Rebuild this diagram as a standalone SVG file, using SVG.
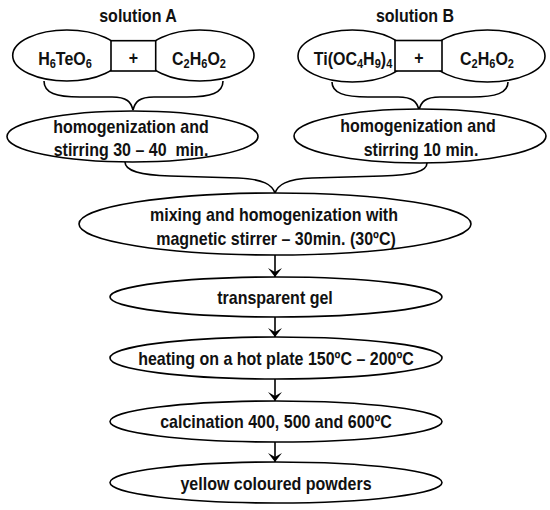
<svg xmlns="http://www.w3.org/2000/svg" width="550" height="510" viewBox="0 0 550 510">
<style>
.n{fill:#fff;stroke:#000;stroke-width:1.6}
.c{fill:none;stroke:#000;stroke-width:1.6}
text{font-family:"Liberation Sans",Arial,sans-serif;font-weight:bold;font-size:16px;fill:#111;text-anchor:middle}
.s{font-size:11px}
</style>
<defs>
<marker id="ah" markerUnits="userSpaceOnUse" markerWidth="12" markerHeight="16" viewBox="-10 -8 12 16" refX="0" refY="0" orient="auto">
<path d="M0,0 L-9,-7 L-5,0 L-9,7 Z" fill="#000"/>
</marker>
</defs>
<rect width="550" height="510" fill="#fff"/>
<text transform="translate(138,22) scale(1,1.15)">solution A</text>
<text transform="translate(415,22) scale(1,1.15)">solution B</text>
<g id="connectors">
<path class="c" d="M44,81 C44,93 56,97 80,97 L112,97 C127,97 131,102 133,110 C135,102 139,97 154,97 L187,97 C211,97 223,93 223,81"/>
<path class="c" d="M332,82 C332,93 344,97 368,97 L398,97 C413,97 417,102 419,110 C421,102 425,97 440,97 L472,97 C496,97 508,93 508,82"/>
<path class="c" d="M125,162 C125,171 140,175 170,176 L238,178 C264,179 272,185 275,193 C278,185 286,179 312,178 L382,176 C412,175 427,172 427,163"/>
<line class="c" x1="275" y1="255" x2="275" y2="277" marker-end="url(#ah)"/>
<line class="c" x1="275" y1="317" x2="275" y2="337" marker-end="url(#ah)"/>
<line class="c" x1="275" y1="379" x2="275" y2="401" marker-end="url(#ah)"/>
<line class="c" x1="275" y1="442" x2="275" y2="462" marker-end="url(#ah)"/>
</g>
<g id="solA">
<ellipse class="n" cx="66.9" cy="55.5" rx="54.2" ry="25.5"/>
<ellipse class="n" cx="199.8" cy="55.5" rx="54.2" ry="25.5"/>
<rect class="n" x="111" y="40.7" width="44.7" height="30.3"/>
<text transform="translate(65,65) scale(1,1.15)">H<tspan class="s" dy="3">6</tspan><tspan dy="-3">TeO</tspan><tspan class="s" dy="3">6</tspan></text>
<text transform="translate(133.3,64) scale(1,1.15)">+</text>
<text transform="translate(199,65) scale(1,1.15)">C<tspan class="s" dy="3">2</tspan><tspan dy="-3">H</tspan><tspan class="s" dy="3">6</tspan><tspan dy="-3">O</tspan><tspan class="s" dy="3">2</tspan></text>
</g>
<g id="solB">
<ellipse class="n" cx="352.3" cy="56" rx="54.3" ry="26"/>
<ellipse class="n" cx="487.4" cy="56" rx="57.6" ry="26"/>
<rect class="n" x="395" y="40.5" width="47" height="30.5"/>
<text transform="translate(353,65) scale(1,1.15)">Ti(OC<tspan class="s" dy="3">4</tspan><tspan dy="-3">H</tspan><tspan class="s" dy="3">9</tspan><tspan dy="-3">)</tspan><tspan class="s" dy="3">4</tspan></text>
<text transform="translate(419,64) scale(1,1.15)">+</text>
<text transform="translate(487,65) scale(1,1.15)">C<tspan class="s" dy="3">2</tspan><tspan dy="-3">H</tspan><tspan class="s" dy="3">6</tspan><tspan dy="-3">O</tspan><tspan class="s" dy="3">2</tspan></text>
</g>
<g id="homA">
<ellipse class="n" cx="132.5" cy="136.5" rx="125.5" ry="25.5"/>
<text transform="translate(131,133) scale(1,1.15)">homogenization and</text>
<text transform="translate(131,156) scale(1,1.15)">stirring 30 – 40&#160; min.</text>
</g>
<g id="homB">
<ellipse class="n" cx="420" cy="136" rx="126" ry="27"/>
<text transform="translate(418,132) scale(1,1.15)">homogenization and</text>
<text transform="translate(421,156) scale(1,1.15)">stirring 10 min.</text>
</g>
<g id="mix">
<ellipse class="n" cx="275" cy="224" rx="196" ry="31"/>
<text transform="translate(274,221) scale(1,1.15)">mixing and homogenization with</text>
<text transform="translate(276,245) scale(1,1.15)">magnetic stirrer – 30min. (30ºC)</text>
</g>
<g id="gel">
<ellipse class="n" cx="276" cy="297" rx="166" ry="20"/>
<text transform="translate(275,304) scale(1,1.15)">transparent gel</text>
</g>
<g id="heat">
<ellipse class="n" cx="276" cy="358" rx="166" ry="21"/>
<text transform="translate(276,365) scale(1,1.15)">heating on a hot plate 150ºC – 200ºC</text>
</g>
<g id="calc">
<ellipse class="n" cx="276" cy="421.5" rx="166" ry="20.5"/>
<text transform="translate(276,428) scale(1,1.15)">calcination 400, 500 and 600ºC</text>
</g>
<g id="yellow">
<ellipse class="n" cx="276" cy="482.5" rx="166" ry="20.5"/>
<text transform="translate(276,490) scale(1,1.15)">yellow coloured powders</text>
</g>
</svg>
